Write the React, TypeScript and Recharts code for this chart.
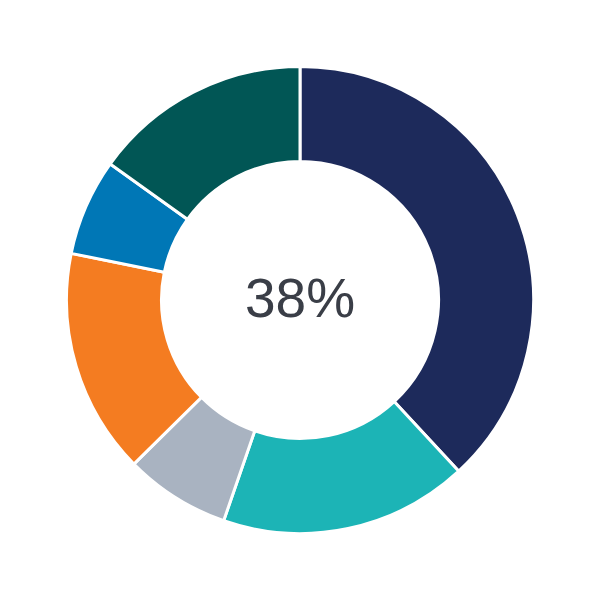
import React from "react";
import { PieChart, Pie, Cell, Label } from "recharts";

const categories = ["A", "B", "C", "D", "E", "F"];
const values = [38.1, 17.2, 7.3, 15.6, 6.7, 15.1];
const colors = ["#1d2a5b", "#1cb4b6", "#a9b3c1", "#f47c21", "#0077b6", "#015655"];
const centerLabel = "38%";

const data = categories.map((name, i) => ({ name, value: values[i] }));

export default function App() {
  return (
    <div style={{ width: 584, height: 584 }}>
      <PieChart width={584} height={584} margin={{ top: 0, right: 0, bottom: 0, left: 0 }}>
        <Pie
          data={data}
          dataKey="value"
          nameKey="name"
          cx={292}
          cy={292}
          innerRadius={138.5}
          outerRadius={233.5}
          startAngle={90}
          endAngle={-270}
          stroke="#ffffff"
          strokeWidth={3}
          isAnimationActive={false}
        >
          {data.map((d, i) => (
            <Cell key={d.name} fill={colors[i]} />
          ))}
          <Label
            value={centerLabel}
            position="center"
            fill="#3a3e47"
            fontSize={55}
            dy={-3}
            fontFamily="Liberation Sans, Arial, sans-serif"
          />
        </Pie>
      </PieChart>
    </div>
  );
}
